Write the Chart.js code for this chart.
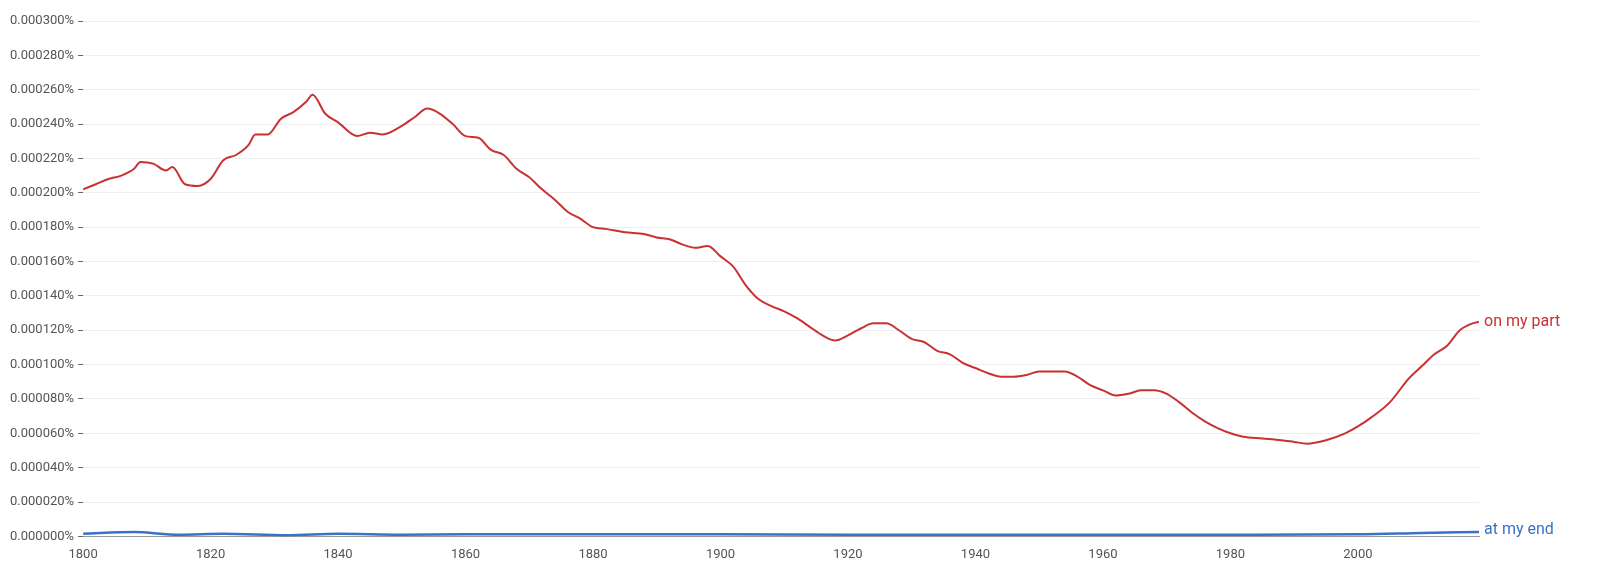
<!DOCTYPE html>
<html><head><meta charset="utf-8">
<script src="https://cdn.jsdelivr.net/npm/chart.js@4"></script>
<style>html,body{margin:0;padding:0;background:#fff}#w{width:1601px;height:566px}</style>
</head><body><div id="w"><canvas id="c"></canvas></div>
<script>
const redYears=[1800,1802,1804,1806,1808,1809,1811,1813,1814,1816,1818,1820,1822,1824,1826,1827,1829,1831,1833,1835,1836,1838,1840,1843,1845,1847,1850,1852,1854,1856,1858,1860,1862,1864,1866,1868,1870,1872,1874,1876,1878,1880,1882,1885,1888,1890,1892,1894,1896,1898,1900,1902,1904,1906,1908,1910,1912,1914,1916,1918,1920,1922,1924,1926,1928,1930,1932,1934,1936,1938,1940,1942,1944,1946,1948,1950,1952,1954,1956,1958,1960,1962,1964,1966,1968,1970,1972,1974,1976,1978,1980,1982,1985,1988,1990,1992,1995,1998,2000,2002,2005,2008,2010,2012,2014,2016,2018,2019];
const redVals=[202,205,208,210,214,218,217,213,215,205,204,208,219,222,228,234,234,243,247,253,257,246,241,233,235,234,239,244,249,246,240,233,232,225,222,214,209,202,196,189,185,180,179,177,176,174,173,170,168,169,163,157,146,138,134,131,127,122,117,114,117,121,124,124,120,115,113,108,106,101,98,95,93,93,94,96,96,96,93,88,85,82,83,85,85,83,78,72,67,63,60,58,57,56,55,54,56,60,64,69,78,92,99,106,111,120,124,125];
const blueYears=[1800,1808,1815,1822,1832,1840,1850,1860,1880,1900,1920,1950,1980,2000,2010,2019];
const blueVals=[1.5,2.5,1,1.5,0.6,1.5,1,1.3,1.2,1.2,1,1,1,1.2,2,2.6];
const seriesNames=['on my part','at my end'];
const yTicks=[0,20,40,60,80,100,120,140,160,180,200,220,240,260,280,300];
const toPts=(xs,vs)=>xs.map((x,i)=>({x:x,y:vs[i]*1e-6}));
const endLabels={id:'endLabels',afterDatasetsDraw(ch){const c=ch.ctx;ch.data.datasets.forEach((d,i)=>{const m=ch.getDatasetMeta(i);const p=m.data[m.data.length-1];c.save();c.font='16px Roboto';c.fillStyle=d.borderColor;c.textBaseline='middle';c.fillText(d.label,p.x+5,p.y+(i==1?-2:0));c.restore();});}};
new Chart(document.getElementById('c'),{type:'line',
data:{datasets:[
{label:seriesNames[0],data:toPts(redYears,redVals),borderColor:'#c83232',borderWidth:2,pointRadius:0,tension:0.4,cubicInterpolationMode:'monotone'},
{label:seriesNames[1],data:toPts(blueYears,blueVals),borderColor:'#3a72c4',borderWidth:2.5,pointRadius:0,tension:0.4,cubicInterpolationMode:'monotone'}]},
options:{responsive:true,maintainAspectRatio:false,animation:false,
layout:{padding:{left:6,right:122,top:21,bottom:0}},
plugins:{legend:{display:false},tooltip:{enabled:false}},
scales:{
x:{type:'linear',min:1800,max:2019,ticks:{stepSize:20,color:'#555',font:{family:'Roboto',size:13},callback:v=>v%20===0?String(v):''},grid:{display:false,drawTicks:true},border:{color:'#999'}},
y:{min:0,max:0.0003,afterBuildTicks:a=>{a.ticks=yTicks.map(v=>({value:v*1e-6}));},ticks:{color:'#555',font:{family:'Roboto',size:13},padding:4,callback:v=>v.toFixed(6)+'%'},grid:{color:'#eeeeee',tickColor:'#666',tickLength:5},border:{display:false}}
}},plugins:[endLabels]});
</script></body></html>
